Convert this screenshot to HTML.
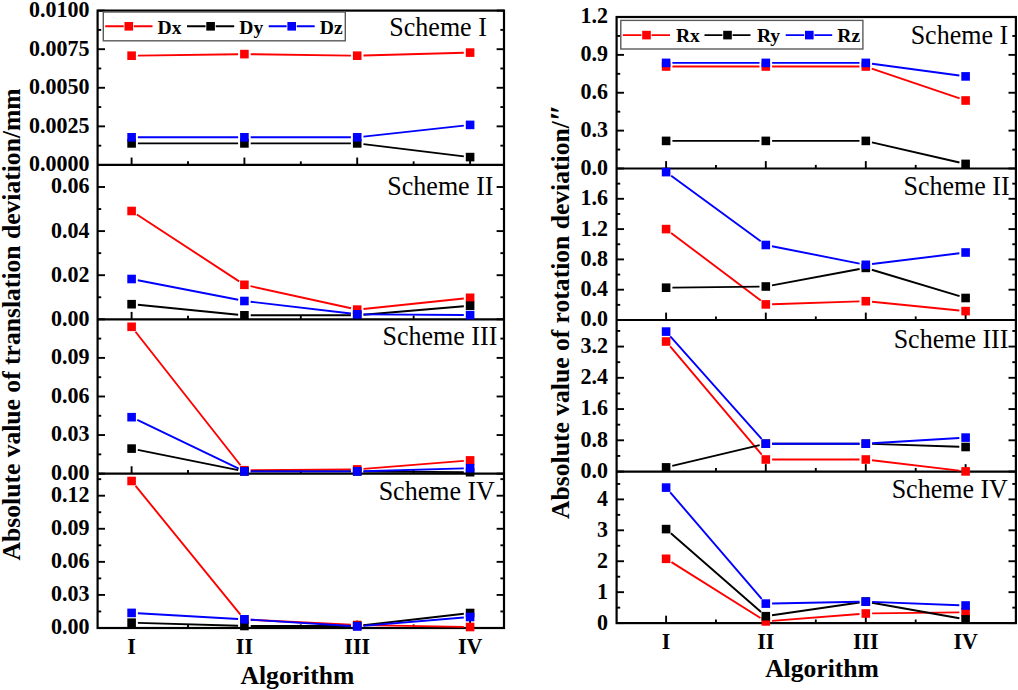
<!DOCTYPE html>
<html><head><meta charset="utf-8"><style>
html,body{margin:0;padding:0;background:#fff;width:1018px;height:690px;overflow:hidden}
svg{display:block}
.t{stroke:#000;stroke-width:1.9}
text{font-family:"Liberation Serif",serif;fill:#000}
.yl{font-size:22px;font-weight:bold;text-anchor:end}
.xl{font-size:22px;font-weight:bold;text-anchor:middle}
.at{font-size:25.6px;font-weight:bold;text-anchor:middle}
.sc{font-size:26px}
.lg{font-size:19.6px;font-weight:bold}
</style></head><body>
<svg width="1018" height="690" viewBox="0 0 1018 690">
<rect x="97.6" y="10.6" width="406.40" height="617.40" fill="none" stroke="#000" stroke-width="2.2"/>
<line x1="97.6" y1="164.95" x2="504.0" y2="164.95" stroke="#000" stroke-width="2.2"/>
<line x1="97.6" y1="319.3" x2="504.0" y2="319.3" stroke="#000" stroke-width="2.2"/>
<line x1="97.6" y1="473.65" x2="504.0" y2="473.65" stroke="#000" stroke-width="2.2"/>
<line x1="97.6" y1="164.95" x2="105.0" y2="164.95" class="t"/>
<line x1="504.0" y1="164.95" x2="496.6" y2="164.95" class="t"/>
<line x1="97.6" y1="126.36" x2="105.0" y2="126.36" class="t"/>
<line x1="504.0" y1="126.36" x2="496.6" y2="126.36" class="t"/>
<line x1="97.6" y1="87.77" x2="105.0" y2="87.77" class="t"/>
<line x1="504.0" y1="87.77" x2="496.6" y2="87.77" class="t"/>
<line x1="97.6" y1="49.19" x2="105.0" y2="49.19" class="t"/>
<line x1="504.0" y1="49.19" x2="496.6" y2="49.19" class="t"/>
<line x1="97.6" y1="10.6" x2="105.0" y2="10.6" class="t"/>
<line x1="504.0" y1="10.6" x2="496.6" y2="10.6" class="t"/>
<line x1="97.6" y1="145.66" x2="101.19999999999999" y2="145.66" class="t"/>
<line x1="504.0" y1="145.66" x2="500.4" y2="145.66" class="t"/>
<line x1="97.6" y1="107.07" x2="101.19999999999999" y2="107.07" class="t"/>
<line x1="504.0" y1="107.07" x2="500.4" y2="107.07" class="t"/>
<line x1="97.6" y1="68.48" x2="101.19999999999999" y2="68.48" class="t"/>
<line x1="504.0" y1="68.48" x2="500.4" y2="68.48" class="t"/>
<line x1="97.6" y1="29.89" x2="101.19999999999999" y2="29.89" class="t"/>
<line x1="504.0" y1="29.89" x2="500.4" y2="29.89" class="t"/>
<line x1="131.6" y1="164.95" x2="131.6" y2="157.54999999999998" class="t"/>
<line x1="244.4" y1="164.95" x2="244.4" y2="157.54999999999998" class="t"/>
<line x1="357.2" y1="164.95" x2="357.2" y2="157.54999999999998" class="t"/>
<line x1="470.1" y1="164.95" x2="470.1" y2="157.54999999999998" class="t"/>
<line x1="188.0" y1="164.95" x2="188.0" y2="161.35" class="t"/>
<line x1="300.8" y1="164.95" x2="300.8" y2="161.35" class="t"/>
<line x1="413.65" y1="164.95" x2="413.65" y2="161.35" class="t"/>
<path d="M137.90,55.61L238.10,54.19 M250.70,54.19L350.90,55.61 M363.50,55.53L463.80,52.77" stroke="#ff0000" stroke-width="1.9" fill="none"/>
<rect x="127.30" y="51.40" width="8.6" height="8.6" fill="#ff0000"/>
<rect x="240.10" y="49.80" width="8.6" height="8.6" fill="#ff0000"/>
<rect x="352.90" y="51.40" width="8.6" height="8.6" fill="#ff0000"/>
<rect x="465.80" y="48.30" width="8.6" height="8.6" fill="#ff0000"/>
<path d="M137.90,143.40L238.10,143.40 M250.70,143.40L350.90,143.40 M363.45,144.16L463.85,156.34" stroke="#000000" stroke-width="1.9" fill="none"/>
<rect x="127.30" y="139.10" width="8.6" height="8.6" fill="#000000"/>
<rect x="240.10" y="139.10" width="8.6" height="8.6" fill="#000000"/>
<rect x="352.90" y="139.10" width="8.6" height="8.6" fill="#000000"/>
<rect x="465.80" y="152.80" width="8.6" height="8.6" fill="#000000"/>
<path d="M137.90,137.30L238.10,137.30 M250.70,137.30L350.90,137.30 M363.46,136.61L463.84,125.59" stroke="#0000ff" stroke-width="1.9" fill="none"/>
<rect x="127.30" y="133.00" width="8.6" height="8.6" fill="#0000ff"/>
<rect x="240.10" y="133.00" width="8.6" height="8.6" fill="#0000ff"/>
<rect x="352.90" y="133.00" width="8.6" height="8.6" fill="#0000ff"/>
<rect x="465.80" y="120.60" width="8.6" height="8.6" fill="#0000ff"/>
<line x1="97.6" y1="319.3" x2="105.0" y2="319.3" class="t"/>
<line x1="504.0" y1="319.3" x2="496.6" y2="319.3" class="t"/>
<line x1="97.6" y1="275.2" x2="105.0" y2="275.2" class="t"/>
<line x1="504.0" y1="275.2" x2="496.6" y2="275.2" class="t"/>
<line x1="97.6" y1="231.1" x2="105.0" y2="231.1" class="t"/>
<line x1="504.0" y1="231.1" x2="496.6" y2="231.1" class="t"/>
<line x1="97.6" y1="187.0" x2="105.0" y2="187.0" class="t"/>
<line x1="504.0" y1="187.0" x2="496.6" y2="187.0" class="t"/>
<line x1="97.6" y1="297.25" x2="101.19999999999999" y2="297.25" class="t"/>
<line x1="504.0" y1="297.25" x2="500.4" y2="297.25" class="t"/>
<line x1="97.6" y1="253.15" x2="101.19999999999999" y2="253.15" class="t"/>
<line x1="504.0" y1="253.15" x2="500.4" y2="253.15" class="t"/>
<line x1="97.6" y1="209.05" x2="101.19999999999999" y2="209.05" class="t"/>
<line x1="504.0" y1="209.05" x2="500.4" y2="209.05" class="t"/>
<line x1="131.6" y1="319.3" x2="131.6" y2="311.90000000000003" class="t"/>
<line x1="244.4" y1="319.3" x2="244.4" y2="311.90000000000003" class="t"/>
<line x1="357.2" y1="319.3" x2="357.2" y2="311.90000000000003" class="t"/>
<line x1="470.1" y1="319.3" x2="470.1" y2="311.90000000000003" class="t"/>
<line x1="188.0" y1="319.3" x2="188.0" y2="315.7" class="t"/>
<line x1="300.8" y1="319.3" x2="300.8" y2="315.7" class="t"/>
<line x1="413.65" y1="319.3" x2="413.65" y2="315.7" class="t"/>
<path d="M136.87,214.45L239.13,281.35 M250.55,286.15L351.05,308.25 M363.47,308.95L463.83,298.45" stroke="#ff0000" stroke-width="1.9" fill="none"/>
<rect x="127.30" y="206.70" width="8.6" height="8.6" fill="#ff0000"/>
<rect x="240.10" y="280.50" width="8.6" height="8.6" fill="#ff0000"/>
<rect x="352.90" y="305.30" width="8.6" height="8.6" fill="#ff0000"/>
<rect x="465.80" y="293.50" width="8.6" height="8.6" fill="#ff0000"/>
<path d="M137.87,304.82L238.13,314.68 M250.70,315.30L350.90,315.30 M363.48,314.77L463.82,306.23" stroke="#000000" stroke-width="1.9" fill="none"/>
<rect x="127.30" y="299.90" width="8.6" height="8.6" fill="#000000"/>
<rect x="240.10" y="311.00" width="8.6" height="8.6" fill="#000000"/>
<rect x="352.90" y="311.00" width="8.6" height="8.6" fill="#000000"/>
<rect x="465.80" y="301.40" width="8.6" height="8.6" fill="#000000"/>
<path d="M137.78,280.21L238.22,299.79 M250.66,301.74L350.94,313.56 M363.50,314.34L463.80,315.06" stroke="#0000ff" stroke-width="1.9" fill="none"/>
<rect x="127.30" y="274.70" width="8.6" height="8.6" fill="#0000ff"/>
<rect x="240.10" y="296.70" width="8.6" height="8.6" fill="#0000ff"/>
<rect x="352.90" y="310.00" width="8.6" height="8.6" fill="#0000ff"/>
<rect x="465.80" y="310.80" width="8.6" height="8.6" fill="#0000ff"/>
<line x1="97.6" y1="473.65" x2="105.0" y2="473.65" class="t"/>
<line x1="504.0" y1="473.65" x2="496.6" y2="473.65" class="t"/>
<line x1="97.6" y1="435.06" x2="105.0" y2="435.06" class="t"/>
<line x1="504.0" y1="435.06" x2="496.6" y2="435.06" class="t"/>
<line x1="97.6" y1="396.48" x2="105.0" y2="396.48" class="t"/>
<line x1="504.0" y1="396.48" x2="496.6" y2="396.48" class="t"/>
<line x1="97.6" y1="357.89" x2="105.0" y2="357.89" class="t"/>
<line x1="504.0" y1="357.89" x2="496.6" y2="357.89" class="t"/>
<line x1="97.6" y1="454.36" x2="101.19999999999999" y2="454.36" class="t"/>
<line x1="504.0" y1="454.36" x2="500.4" y2="454.36" class="t"/>
<line x1="97.6" y1="415.77" x2="101.19999999999999" y2="415.77" class="t"/>
<line x1="504.0" y1="415.77" x2="500.4" y2="415.77" class="t"/>
<line x1="97.6" y1="377.18" x2="101.19999999999999" y2="377.18" class="t"/>
<line x1="504.0" y1="377.18" x2="500.4" y2="377.18" class="t"/>
<line x1="97.6" y1="338.59" x2="101.19999999999999" y2="338.59" class="t"/>
<line x1="504.0" y1="338.59" x2="500.4" y2="338.59" class="t"/>
<line x1="131.6" y1="473.65" x2="131.6" y2="466.25" class="t"/>
<line x1="244.4" y1="473.65" x2="244.4" y2="466.25" class="t"/>
<line x1="357.2" y1="473.65" x2="357.2" y2="466.25" class="t"/>
<line x1="470.1" y1="473.65" x2="470.1" y2="466.25" class="t"/>
<line x1="188.0" y1="473.65" x2="188.0" y2="470.04999999999995" class="t"/>
<line x1="300.8" y1="473.65" x2="300.8" y2="470.04999999999995" class="t"/>
<line x1="413.65" y1="473.65" x2="413.65" y2="470.04999999999995" class="t"/>
<path d="M135.50,331.75L240.50,465.25 M250.70,470.16L350.90,469.44 M363.48,468.90L463.82,460.90" stroke="#ff0000" stroke-width="1.9" fill="none"/>
<rect x="127.30" y="322.50" width="8.6" height="8.6" fill="#ff0000"/>
<rect x="240.10" y="465.90" width="8.6" height="8.6" fill="#ff0000"/>
<rect x="352.90" y="465.10" width="8.6" height="8.6" fill="#ff0000"/>
<rect x="465.80" y="456.10" width="8.6" height="8.6" fill="#ff0000"/>
<path d="M137.78,449.85L238.22,470.15 M250.70,471.40L350.90,471.40 M363.50,471.44L463.80,472.16" stroke="#000000" stroke-width="1.9" fill="none"/>
<rect x="127.30" y="444.30" width="8.6" height="8.6" fill="#000000"/>
<rect x="240.10" y="467.10" width="8.6" height="8.6" fill="#000000"/>
<rect x="352.90" y="467.10" width="8.6" height="8.6" fill="#000000"/>
<rect x="465.80" y="467.90" width="8.6" height="8.6" fill="#000000"/>
<path d="M137.28,419.93L238.72,468.67 M250.70,471.40L350.90,471.40 M363.50,471.22L463.80,468.38" stroke="#0000ff" stroke-width="1.9" fill="none"/>
<rect x="127.30" y="412.90" width="8.6" height="8.6" fill="#0000ff"/>
<rect x="240.10" y="467.10" width="8.6" height="8.6" fill="#0000ff"/>
<rect x="352.90" y="467.10" width="8.6" height="8.6" fill="#0000ff"/>
<rect x="465.80" y="463.90" width="8.6" height="8.6" fill="#0000ff"/>
<line x1="97.6" y1="628.0" x2="105.0" y2="628.0" class="t"/>
<line x1="504.0" y1="628.0" x2="496.6" y2="628.0" class="t"/>
<line x1="97.6" y1="594.92" x2="105.0" y2="594.92" class="t"/>
<line x1="504.0" y1="594.92" x2="496.6" y2="594.92" class="t"/>
<line x1="97.6" y1="561.85" x2="105.0" y2="561.85" class="t"/>
<line x1="504.0" y1="561.85" x2="496.6" y2="561.85" class="t"/>
<line x1="97.6" y1="528.77" x2="105.0" y2="528.77" class="t"/>
<line x1="504.0" y1="528.77" x2="496.6" y2="528.77" class="t"/>
<line x1="97.6" y1="495.7" x2="105.0" y2="495.7" class="t"/>
<line x1="504.0" y1="495.7" x2="496.6" y2="495.7" class="t"/>
<line x1="97.6" y1="611.46" x2="101.19999999999999" y2="611.46" class="t"/>
<line x1="504.0" y1="611.46" x2="500.4" y2="611.46" class="t"/>
<line x1="97.6" y1="578.39" x2="101.19999999999999" y2="578.39" class="t"/>
<line x1="504.0" y1="578.39" x2="500.4" y2="578.39" class="t"/>
<line x1="97.6" y1="545.31" x2="101.19999999999999" y2="545.31" class="t"/>
<line x1="504.0" y1="545.31" x2="500.4" y2="545.31" class="t"/>
<line x1="97.6" y1="512.24" x2="101.19999999999999" y2="512.24" class="t"/>
<line x1="504.0" y1="512.24" x2="500.4" y2="512.24" class="t"/>
<line x1="97.6" y1="479.16" x2="101.19999999999999" y2="479.16" class="t"/>
<line x1="504.0" y1="479.16" x2="500.4" y2="479.16" class="t"/>
<line x1="131.6" y1="628.0" x2="131.6" y2="620.6" class="t"/>
<line x1="244.4" y1="628.0" x2="244.4" y2="620.6" class="t"/>
<line x1="357.2" y1="628.0" x2="357.2" y2="620.6" class="t"/>
<line x1="470.1" y1="628.0" x2="470.1" y2="620.6" class="t"/>
<line x1="188.0" y1="628.0" x2="188.0" y2="624.4" class="t"/>
<line x1="300.8" y1="628.0" x2="300.8" y2="624.4" class="t"/>
<line x1="413.65" y1="628.0" x2="413.65" y2="624.4" class="t"/>
<path d="M135.58,485.88L240.42,614.62 M250.69,619.81L350.91,624.69 M363.50,625.11L463.80,626.89" stroke="#ff0000" stroke-width="1.9" fill="none"/>
<rect x="127.30" y="476.70" width="8.6" height="8.6" fill="#ff0000"/>
<rect x="240.10" y="615.20" width="8.6" height="8.6" fill="#ff0000"/>
<rect x="352.90" y="620.70" width="8.6" height="8.6" fill="#ff0000"/>
<rect x="465.80" y="622.70" width="8.6" height="8.6" fill="#ff0000"/>
<path d="M137.90,622.88L238.10,625.82 M250.70,626.00L350.90,626.00 M363.46,625.28L463.84,613.72" stroke="#000000" stroke-width="1.9" fill="none"/>
<rect x="127.30" y="618.40" width="8.6" height="8.6" fill="#000000"/>
<rect x="240.10" y="621.70" width="8.6" height="8.6" fill="#000000"/>
<rect x="352.90" y="621.70" width="8.6" height="8.6" fill="#000000"/>
<rect x="465.80" y="608.70" width="8.6" height="8.6" fill="#000000"/>
<path d="M137.89,613.26L238.11,618.94 M250.69,619.70L350.91,626.00 M363.48,625.88L463.82,617.52" stroke="#0000ff" stroke-width="1.9" fill="none"/>
<rect x="127.30" y="608.60" width="8.6" height="8.6" fill="#0000ff"/>
<rect x="240.10" y="615.00" width="8.6" height="8.6" fill="#0000ff"/>
<rect x="352.90" y="622.10" width="8.6" height="8.6" fill="#0000ff"/>
<rect x="465.80" y="612.70" width="8.6" height="8.6" fill="#0000ff"/>
<text transform="translate(89.5,171.35) scale(1,1.07)" class="yl">0.0000</text>
<text transform="translate(89.5,132.76) scale(1,1.07)" class="yl">0.0025</text>
<text transform="translate(89.5,94.17) scale(1,1.07)" class="yl">0.0050</text>
<text transform="translate(89.5,55.59) scale(1,1.07)" class="yl">0.0075</text>
<text transform="translate(89.5,17.00) scale(1,1.07)" class="yl">0.0100</text>
<text transform="translate(89.5,325.70) scale(1,1.07)" class="yl">0.00</text>
<text transform="translate(89.5,281.60) scale(1,1.07)" class="yl">0.02</text>
<text transform="translate(89.5,237.50) scale(1,1.07)" class="yl">0.04</text>
<text transform="translate(89.5,193.40) scale(1,1.07)" class="yl">0.06</text>
<text transform="translate(89.5,480.05) scale(1,1.07)" class="yl">0.00</text>
<text transform="translate(89.5,441.46) scale(1,1.07)" class="yl">0.03</text>
<text transform="translate(89.5,402.88) scale(1,1.07)" class="yl">0.06</text>
<text transform="translate(89.5,364.29) scale(1,1.07)" class="yl">0.09</text>
<text transform="translate(89.5,634.40) scale(1,1.07)" class="yl">0.00</text>
<text transform="translate(89.5,601.32) scale(1,1.07)" class="yl">0.03</text>
<text transform="translate(89.5,568.25) scale(1,1.07)" class="yl">0.06</text>
<text transform="translate(89.5,535.17) scale(1,1.07)" class="yl">0.09</text>
<text transform="translate(89.5,502.10) scale(1,1.07)" class="yl">0.12</text>
<text transform="translate(131.6,653.7) scale(1,1.07)" class="xl">I</text>
<text transform="translate(244.4,653.7) scale(1,1.07)" class="xl">II</text>
<text transform="translate(357.2,653.7) scale(1,1.07)" class="xl">III</text>
<text transform="translate(470.1,653.7) scale(1,1.07)" class="xl">IV</text>
<text x="297.4" y="684.4" class="at">Algorithm</text>
<text transform="translate(19.5,324.4) rotate(-90)" class="at">Absolute value of translation deviation/mm</text>
<text transform="translate(389.36,36.1) scale(1,1.04)" class="sc">Scheme I</text>
<text transform="translate(387.36,194.5) scale(1,1.04)" class="sc">Scheme II</text>
<text transform="translate(382.56,345.4) scale(1,1.04)" class="sc">Scheme III</text>
<text transform="translate(378.66,500.2) scale(1,1.04)" class="sc">Scheme IV</text>
<rect x="103.3" y="12.0" width="242" height="28.8" fill="#fff" stroke="#5a5a5a" stroke-width="1.4"/>
<path d="M105.2,26.3H123.70000000000002M133.90000000000003,26.3H152.5" stroke="#ff0000" stroke-width="1.9" fill="none"/>
<rect x="124.50000000000001" y="22.0" width="8.6" height="8.6" fill="#ff0000"/>
<text x="157.6" y="33.5" class="lg">Dx</text>
<path d="M187,26.3H205.49999999999997M215.70000000000002,26.3H234.2" stroke="#000000" stroke-width="1.9" fill="none"/>
<rect x="206.29999999999998" y="22.0" width="8.6" height="8.6" fill="#000000"/>
<text x="239.3" y="33.5" class="lg">Dy</text>
<path d="M268.7,26.3H286.59999999999997M296.8,26.3H314.7" stroke="#0000ff" stroke-width="1.9" fill="none"/>
<rect x="287.4" y="22.0" width="8.6" height="8.6" fill="#0000ff"/>
<text x="319.8" y="33.5" class="lg">Dz</text>
<rect x="616.6" y="17.0" width="399.30" height="606.10" fill="none" stroke="#000" stroke-width="2.2"/>
<line x1="616.6" y1="168.5" x2="1015.9" y2="168.5" stroke="#000" stroke-width="2.2"/>
<line x1="616.6" y1="320.0" x2="1015.9" y2="320.0" stroke="#000" stroke-width="2.2"/>
<line x1="616.6" y1="471.55" x2="1015.9" y2="471.55" stroke="#000" stroke-width="2.2"/>
<line x1="616.6" y1="168.5" x2="624.0" y2="168.5" class="t"/>
<line x1="1015.9" y1="168.5" x2="1008.5" y2="168.5" class="t"/>
<line x1="616.6" y1="130.62" x2="624.0" y2="130.62" class="t"/>
<line x1="1015.9" y1="130.62" x2="1008.5" y2="130.62" class="t"/>
<line x1="616.6" y1="92.75" x2="624.0" y2="92.75" class="t"/>
<line x1="1015.9" y1="92.75" x2="1008.5" y2="92.75" class="t"/>
<line x1="616.6" y1="54.88" x2="624.0" y2="54.88" class="t"/>
<line x1="1015.9" y1="54.88" x2="1008.5" y2="54.88" class="t"/>
<line x1="616.6" y1="17.0" x2="624.0" y2="17.0" class="t"/>
<line x1="1015.9" y1="17.0" x2="1008.5" y2="17.0" class="t"/>
<line x1="616.6" y1="149.56" x2="620.2" y2="149.56" class="t"/>
<line x1="1015.9" y1="149.56" x2="1012.3" y2="149.56" class="t"/>
<line x1="616.6" y1="111.69" x2="620.2" y2="111.69" class="t"/>
<line x1="1015.9" y1="111.69" x2="1012.3" y2="111.69" class="t"/>
<line x1="616.6" y1="73.81" x2="620.2" y2="73.81" class="t"/>
<line x1="1015.9" y1="73.81" x2="1012.3" y2="73.81" class="t"/>
<line x1="616.6" y1="35.94" x2="620.2" y2="35.94" class="t"/>
<line x1="1015.9" y1="35.94" x2="1012.3" y2="35.94" class="t"/>
<line x1="666.1" y1="168.5" x2="666.1" y2="161.1" class="t"/>
<line x1="765.8" y1="168.5" x2="765.8" y2="161.1" class="t"/>
<line x1="865.8" y1="168.5" x2="865.8" y2="161.1" class="t"/>
<line x1="965.6" y1="168.5" x2="965.6" y2="161.1" class="t"/>
<line x1="715.95" y1="168.5" x2="715.95" y2="164.9" class="t"/>
<line x1="815.8" y1="168.5" x2="815.8" y2="164.9" class="t"/>
<line x1="915.7" y1="168.5" x2="915.7" y2="164.9" class="t"/>
<path d="M672.40,66.50L759.50,66.50 M772.10,66.50L859.50,66.50 M871.76,68.53L959.64,98.47" stroke="#ff0000" stroke-width="1.9" fill="none"/>
<rect x="661.80" y="62.20" width="8.6" height="8.6" fill="#ff0000"/>
<rect x="761.50" y="62.20" width="8.6" height="8.6" fill="#ff0000"/>
<rect x="861.50" y="62.20" width="8.6" height="8.6" fill="#ff0000"/>
<rect x="961.30" y="96.20" width="8.6" height="8.6" fill="#ff0000"/>
<path d="M672.40,140.90L759.50,140.90 M772.10,140.90L859.50,140.90 M871.94,142.31L959.46,162.49" stroke="#000000" stroke-width="1.9" fill="none"/>
<rect x="661.80" y="136.60" width="8.6" height="8.6" fill="#000000"/>
<rect x="761.50" y="136.60" width="8.6" height="8.6" fill="#000000"/>
<rect x="861.50" y="136.60" width="8.6" height="8.6" fill="#000000"/>
<rect x="961.30" y="159.60" width="8.6" height="8.6" fill="#000000"/>
<path d="M672.40,62.90L759.50,62.90 M772.10,62.90L859.50,62.90 M872.04,63.74L959.36,75.56" stroke="#0000ff" stroke-width="1.9" fill="none"/>
<rect x="661.80" y="58.60" width="8.6" height="8.6" fill="#0000ff"/>
<rect x="761.50" y="58.60" width="8.6" height="8.6" fill="#0000ff"/>
<rect x="861.50" y="58.60" width="8.6" height="8.6" fill="#0000ff"/>
<rect x="961.30" y="72.10" width="8.6" height="8.6" fill="#0000ff"/>
<line x1="616.6" y1="320.0" x2="624.0" y2="320.0" class="t"/>
<line x1="1015.9" y1="320.0" x2="1008.5" y2="320.0" class="t"/>
<line x1="616.6" y1="289.7" x2="624.0" y2="289.7" class="t"/>
<line x1="1015.9" y1="289.7" x2="1008.5" y2="289.7" class="t"/>
<line x1="616.6" y1="259.4" x2="624.0" y2="259.4" class="t"/>
<line x1="1015.9" y1="259.4" x2="1008.5" y2="259.4" class="t"/>
<line x1="616.6" y1="229.1" x2="624.0" y2="229.1" class="t"/>
<line x1="1015.9" y1="229.1" x2="1008.5" y2="229.1" class="t"/>
<line x1="616.6" y1="198.8" x2="624.0" y2="198.8" class="t"/>
<line x1="1015.9" y1="198.8" x2="1008.5" y2="198.8" class="t"/>
<line x1="616.6" y1="304.85" x2="620.2" y2="304.85" class="t"/>
<line x1="1015.9" y1="304.85" x2="1012.3" y2="304.85" class="t"/>
<line x1="616.6" y1="274.55" x2="620.2" y2="274.55" class="t"/>
<line x1="1015.9" y1="274.55" x2="1012.3" y2="274.55" class="t"/>
<line x1="616.6" y1="244.25" x2="620.2" y2="244.25" class="t"/>
<line x1="1015.9" y1="244.25" x2="1012.3" y2="244.25" class="t"/>
<line x1="616.6" y1="213.95" x2="620.2" y2="213.95" class="t"/>
<line x1="1015.9" y1="213.95" x2="1012.3" y2="213.95" class="t"/>
<line x1="616.6" y1="183.65" x2="620.2" y2="183.65" class="t"/>
<line x1="1015.9" y1="183.65" x2="1012.3" y2="183.65" class="t"/>
<line x1="666.1" y1="320.0" x2="666.1" y2="312.6" class="t"/>
<line x1="765.8" y1="320.0" x2="765.8" y2="312.6" class="t"/>
<line x1="865.8" y1="320.0" x2="865.8" y2="312.6" class="t"/>
<line x1="965.6" y1="320.0" x2="965.6" y2="312.6" class="t"/>
<line x1="715.95" y1="320.0" x2="715.95" y2="316.4" class="t"/>
<line x1="815.8" y1="320.0" x2="815.8" y2="316.4" class="t"/>
<line x1="915.7" y1="320.0" x2="915.7" y2="316.4" class="t"/>
<path d="M671.13,232.90L760.77,300.60 M772.10,304.20L859.50,301.40 M872.07,301.82L959.33,310.48" stroke="#ff0000" stroke-width="1.9" fill="none"/>
<rect x="661.80" y="224.80" width="8.6" height="8.6" fill="#ff0000"/>
<rect x="761.50" y="300.10" width="8.6" height="8.6" fill="#ff0000"/>
<rect x="861.50" y="296.90" width="8.6" height="8.6" fill="#ff0000"/>
<rect x="961.30" y="306.80" width="8.6" height="8.6" fill="#ff0000"/>
<path d="M672.40,287.62L759.50,286.58 M771.99,285.35L859.61,269.05 M871.83,269.72L959.57,296.18" stroke="#000000" stroke-width="1.9" fill="none"/>
<rect x="661.80" y="283.40" width="8.6" height="8.6" fill="#000000"/>
<rect x="761.50" y="282.20" width="8.6" height="8.6" fill="#000000"/>
<rect x="861.50" y="263.60" width="8.6" height="8.6" fill="#000000"/>
<rect x="961.30" y="293.70" width="8.6" height="8.6" fill="#000000"/>
<path d="M671.19,175.82L760.71,241.28 M771.98,246.22L859.62,263.58 M872.05,264.03L959.35,253.27" stroke="#0000ff" stroke-width="1.9" fill="none"/>
<rect x="661.80" y="167.80" width="8.6" height="8.6" fill="#0000ff"/>
<rect x="761.50" y="240.70" width="8.6" height="8.6" fill="#0000ff"/>
<rect x="861.50" y="260.50" width="8.6" height="8.6" fill="#0000ff"/>
<rect x="961.30" y="248.20" width="8.6" height="8.6" fill="#0000ff"/>
<line x1="616.6" y1="471.55" x2="624.0" y2="471.55" class="t"/>
<line x1="1015.9" y1="471.55" x2="1008.5" y2="471.55" class="t"/>
<line x1="616.6" y1="440.3" x2="624.0" y2="440.3" class="t"/>
<line x1="1015.9" y1="440.3" x2="1008.5" y2="440.3" class="t"/>
<line x1="616.6" y1="409.06" x2="624.0" y2="409.06" class="t"/>
<line x1="1015.9" y1="409.06" x2="1008.5" y2="409.06" class="t"/>
<line x1="616.6" y1="377.81" x2="624.0" y2="377.81" class="t"/>
<line x1="1015.9" y1="377.81" x2="1008.5" y2="377.81" class="t"/>
<line x1="616.6" y1="346.56" x2="624.0" y2="346.56" class="t"/>
<line x1="1015.9" y1="346.56" x2="1008.5" y2="346.56" class="t"/>
<line x1="616.6" y1="455.93" x2="620.2" y2="455.93" class="t"/>
<line x1="1015.9" y1="455.93" x2="1012.3" y2="455.93" class="t"/>
<line x1="616.6" y1="424.68" x2="620.2" y2="424.68" class="t"/>
<line x1="1015.9" y1="424.68" x2="1012.3" y2="424.68" class="t"/>
<line x1="616.6" y1="393.43" x2="620.2" y2="393.43" class="t"/>
<line x1="1015.9" y1="393.43" x2="1012.3" y2="393.43" class="t"/>
<line x1="616.6" y1="362.18" x2="620.2" y2="362.18" class="t"/>
<line x1="1015.9" y1="362.18" x2="1012.3" y2="362.18" class="t"/>
<line x1="616.6" y1="330.94" x2="620.2" y2="330.94" class="t"/>
<line x1="1015.9" y1="330.94" x2="1012.3" y2="330.94" class="t"/>
<line x1="666.1" y1="471.55" x2="666.1" y2="464.15000000000003" class="t"/>
<line x1="765.8" y1="471.55" x2="765.8" y2="464.15000000000003" class="t"/>
<line x1="865.8" y1="471.55" x2="865.8" y2="464.15000000000003" class="t"/>
<line x1="965.6" y1="471.55" x2="965.6" y2="464.15000000000003" class="t"/>
<line x1="715.95" y1="471.55" x2="715.95" y2="467.95" class="t"/>
<line x1="815.8" y1="471.55" x2="815.8" y2="467.95" class="t"/>
<line x1="915.7" y1="471.55" x2="915.7" y2="467.95" class="t"/>
<path d="M670.17,346.31L761.73,454.69 M772.10,459.50L859.50,459.50 M872.06,460.25L959.34,470.65" stroke="#ff0000" stroke-width="1.9" fill="none"/>
<rect x="661.80" y="337.20" width="8.6" height="8.6" fill="#ff0000"/>
<rect x="761.50" y="455.20" width="8.6" height="8.6" fill="#ff0000"/>
<rect x="861.50" y="455.20" width="8.6" height="8.6" fill="#ff0000"/>
<rect x="961.30" y="467.10" width="8.6" height="8.6" fill="#ff0000"/>
<path d="M672.23,465.94L759.67,445.16 M772.10,443.70L859.50,443.70 M872.10,443.91L959.30,446.79" stroke="#000000" stroke-width="1.9" fill="none"/>
<rect x="661.80" y="463.10" width="8.6" height="8.6" fill="#000000"/>
<rect x="761.50" y="439.40" width="8.6" height="8.6" fill="#000000"/>
<rect x="861.50" y="439.40" width="8.6" height="8.6" fill="#000000"/>
<rect x="961.30" y="442.70" width="8.6" height="8.6" fill="#000000"/>
<path d="M670.29,336.31L761.61,438.99 M772.10,443.70L859.50,443.70 M872.09,443.32L959.31,437.98" stroke="#0000ff" stroke-width="1.9" fill="none"/>
<rect x="661.80" y="327.30" width="8.6" height="8.6" fill="#0000ff"/>
<rect x="761.50" y="439.40" width="8.6" height="8.6" fill="#0000ff"/>
<rect x="861.50" y="439.40" width="8.6" height="8.6" fill="#0000ff"/>
<rect x="961.30" y="433.30" width="8.6" height="8.6" fill="#0000ff"/>
<line x1="616.6" y1="623.1" x2="624.0" y2="623.1" class="t"/>
<line x1="1015.9" y1="623.1" x2="1008.5" y2="623.1" class="t"/>
<line x1="616.6" y1="592.17" x2="624.0" y2="592.17" class="t"/>
<line x1="1015.9" y1="592.17" x2="1008.5" y2="592.17" class="t"/>
<line x1="616.6" y1="561.24" x2="624.0" y2="561.24" class="t"/>
<line x1="1015.9" y1="561.24" x2="1008.5" y2="561.24" class="t"/>
<line x1="616.6" y1="530.31" x2="624.0" y2="530.31" class="t"/>
<line x1="1015.9" y1="530.31" x2="1008.5" y2="530.31" class="t"/>
<line x1="616.6" y1="499.39" x2="624.0" y2="499.39" class="t"/>
<line x1="1015.9" y1="499.39" x2="1008.5" y2="499.39" class="t"/>
<line x1="616.6" y1="607.64" x2="620.2" y2="607.64" class="t"/>
<line x1="1015.9" y1="607.64" x2="1012.3" y2="607.64" class="t"/>
<line x1="616.6" y1="576.71" x2="620.2" y2="576.71" class="t"/>
<line x1="1015.9" y1="576.71" x2="1012.3" y2="576.71" class="t"/>
<line x1="616.6" y1="545.78" x2="620.2" y2="545.78" class="t"/>
<line x1="1015.9" y1="545.78" x2="1012.3" y2="545.78" class="t"/>
<line x1="616.6" y1="514.85" x2="620.2" y2="514.85" class="t"/>
<line x1="1015.9" y1="514.85" x2="1012.3" y2="514.85" class="t"/>
<line x1="616.6" y1="483.92" x2="620.2" y2="483.92" class="t"/>
<line x1="1015.9" y1="483.92" x2="1012.3" y2="483.92" class="t"/>
<line x1="666.1" y1="623.1" x2="666.1" y2="615.7" class="t"/>
<line x1="765.8" y1="623.1" x2="765.8" y2="615.7" class="t"/>
<line x1="865.8" y1="623.1" x2="865.8" y2="615.7" class="t"/>
<line x1="965.6" y1="623.1" x2="965.6" y2="615.7" class="t"/>
<line x1="715.95" y1="623.1" x2="715.95" y2="619.5" class="t"/>
<line x1="815.8" y1="623.1" x2="815.8" y2="619.5" class="t"/>
<line x1="915.7" y1="623.1" x2="915.7" y2="619.5" class="t"/>
<path d="M671.44,562.15L760.46,618.05 M772.08,620.90L859.52,614.00 M872.10,613.42L959.30,612.38" stroke="#ff0000" stroke-width="1.9" fill="none"/>
<rect x="661.80" y="554.50" width="8.6" height="8.6" fill="#ff0000"/>
<rect x="761.50" y="617.10" width="8.6" height="8.6" fill="#ff0000"/>
<rect x="861.50" y="609.20" width="8.6" height="8.6" fill="#ff0000"/>
<rect x="961.30" y="608.00" width="8.6" height="8.6" fill="#ff0000"/>
<path d="M670.84,533.24L761.06,612.06 M772.03,615.29L859.57,602.51 M872.00,602.71L959.40,618.29" stroke="#000000" stroke-width="1.9" fill="none"/>
<rect x="661.80" y="524.80" width="8.6" height="8.6" fill="#000000"/>
<rect x="761.50" y="611.90" width="8.6" height="8.6" fill="#000000"/>
<rect x="861.50" y="597.30" width="8.6" height="8.6" fill="#000000"/>
<rect x="961.30" y="615.10" width="8.6" height="8.6" fill="#000000"/>
<path d="M670.21,492.38L761.69,598.82 M772.10,603.47L859.50,601.73 M872.10,601.85L959.30,605.25" stroke="#0000ff" stroke-width="1.9" fill="none"/>
<rect x="661.80" y="483.30" width="8.6" height="8.6" fill="#0000ff"/>
<rect x="761.50" y="599.30" width="8.6" height="8.6" fill="#0000ff"/>
<rect x="861.50" y="597.30" width="8.6" height="8.6" fill="#0000ff"/>
<rect x="961.30" y="601.20" width="8.6" height="8.6" fill="#0000ff"/>
<text transform="translate(608.0,174.90) scale(1,1.07)" class="yl">0.0</text>
<text transform="translate(608.0,137.02) scale(1,1.07)" class="yl">0.3</text>
<text transform="translate(608.0,99.15) scale(1,1.07)" class="yl">0.6</text>
<text transform="translate(608.0,61.28) scale(1,1.07)" class="yl">0.9</text>
<text transform="translate(608.0,23.40) scale(1,1.07)" class="yl">1.2</text>
<text transform="translate(608.0,326.40) scale(1,1.07)" class="yl">0.0</text>
<text transform="translate(608.0,296.10) scale(1,1.07)" class="yl">0.4</text>
<text transform="translate(608.0,265.80) scale(1,1.07)" class="yl">0.8</text>
<text transform="translate(608.0,235.50) scale(1,1.07)" class="yl">1.2</text>
<text transform="translate(608.0,205.20) scale(1,1.07)" class="yl">1.6</text>
<text transform="translate(608.0,477.95) scale(1,1.07)" class="yl">0.0</text>
<text transform="translate(608.0,446.70) scale(1,1.07)" class="yl">0.8</text>
<text transform="translate(608.0,415.46) scale(1,1.07)" class="yl">1.6</text>
<text transform="translate(608.0,384.21) scale(1,1.07)" class="yl">2.4</text>
<text transform="translate(608.0,352.96) scale(1,1.07)" class="yl">3.2</text>
<text transform="translate(608.0,629.50) scale(1,1.07)" class="yl">0</text>
<text transform="translate(608.0,598.57) scale(1,1.07)" class="yl">1</text>
<text transform="translate(608.0,567.64) scale(1,1.07)" class="yl">2</text>
<text transform="translate(608.0,536.71) scale(1,1.07)" class="yl">3</text>
<text transform="translate(608.0,505.79) scale(1,1.07)" class="yl">4</text>
<text transform="translate(666.1,648.7) scale(1,1.07)" class="xl">I</text>
<text transform="translate(765.8,648.7) scale(1,1.07)" class="xl">II</text>
<text transform="translate(865.8,648.7) scale(1,1.07)" class="xl">III</text>
<text transform="translate(965.6,648.7) scale(1,1.07)" class="xl">IV</text>
<text x="822.0" y="677.3" class="at">Algorithm</text>
<text transform="translate(568.7,311.5) rotate(-90)" class="at">Absolute value of rotation deviation/<tspan dy="3.5" style="font-size:31px">″</tspan></text>
<text transform="translate(910.66,43.9) scale(1,1.04)" class="sc">Scheme I</text>
<text transform="translate(903.46,194.8) scale(1,1.04)" class="sc">Scheme II</text>
<text transform="translate(893.66,348.3) scale(1,1.04)" class="sc">Scheme III</text>
<text transform="translate(891.66,498.3) scale(1,1.04)" class="sc">Scheme IV</text>
<rect x="620.8" y="20.4" width="242.1" height="28.6" fill="#fff" stroke="#5a5a5a" stroke-width="1.4"/>
<path d="M622.8,35.1H641.4000000000001M651.5999999999999,35.1H670" stroke="#ff0000" stroke-width="1.9" fill="none"/>
<rect x="642.2" y="30.8" width="8.6" height="8.6" fill="#ff0000"/>
<text x="675.9" y="42.0" class="lg">Rx</text>
<path d="M704.5,35.1H722.4000000000001M732.5999999999999,35.1H750.5" stroke="#000000" stroke-width="1.9" fill="none"/>
<rect x="723.2" y="30.8" width="8.6" height="8.6" fill="#000000"/>
<text x="756.9" y="42.0" class="lg">Ry</text>
<path d="M785.7,35.1H804.2M814.3999999999999,35.1H832.2" stroke="#0000ff" stroke-width="1.9" fill="none"/>
<rect x="805.0" y="30.8" width="8.6" height="8.6" fill="#0000ff"/>
<text x="837.3" y="42.0" class="lg">Rz</text>
</svg></body></html>
